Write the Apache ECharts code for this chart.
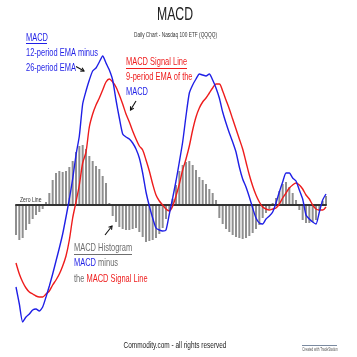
<!DOCTYPE html>
<html>
<head>
<meta charset="utf-8">
<script src="https://cdn.jsdelivr.net/npm/echarts@6/dist/echarts.min.js"></script>
<style>html,body{margin:0;padding:0;background:#fff}#c{width:357px;height:357px}</style>
</head>
<body>
<div id="c"></div>
<script>
// Period index (daily bars)
var periods = [];
for (var k = 0; k < 94; k++) periods.push(k);

// MACD line (12-period EMA minus 26-period EMA)
var macd = [-8.2,-9.9,-11.7,-11.2,-10.9,-10.5,-10.4,-10.6,-10.2,-9.2,
  -8.1,-6.9,-5.6,-4.3,-2.9,-1.2,0.6,2.6,5.0,6.9,
  10.1,11.4,12.5,13.4,13.7,14.3,14.9,14.2,13.5,12.5,
  10.5,8.7,7.1,6.8,6.6,6.2,5.6,4.7,3.2,1.3,
  -0.1,-1.3,-2.3,-2.5,-2.6,-2.5,-0.9,0.7,2.4,4.3,
  6.3,8.9,11.2,12.0,12.6,13.1,13.0,12.9,13.1,12.5,
  11.7,10.7,9.3,8.2,7.2,6.3,5.3,3.8,2.6,1.8,
  0.8,-0.3,-1.3,-1.8,-1.9,-1.4,-1.1,-0.7,0.2,1.3,
  2.3,3.2,3.2,2.7,2.4,1.5,0.6,-1.0,-1.4,-1.7,
  -1.9,-0.7,0.5,1.1];

// MACD signal line (9-period EMA of MACD)
var signal = [-5.8,-6.9,-7.7,-8.3,-8.7,-8.9,-9.1,-9.2,-9.2,-8.9,
  -8.6,-8.0,-7.5,-6.9,-6.1,-5.1,-3.5,-1.3,0.3,2.0,
  4.2,5.3,7.8,9.1,10.0,10.7,11.5,12.3,12.6,12.3,
  11.8,11.0,10.1,9.1,8.3,7.4,6.6,5.9,5.5,4.5,
  3.4,2.1,1.0,0.4,0.0,-0.4,-0.6,-0.1,0.9,2.1,
  3.5,4.6,5.9,7.5,8.8,9.7,10.3,10.7,11.2,11.7,
  12.1,12.1,11.4,10.5,9.6,8.6,7.6,6.6,5.6,4.3,
  3.0,1.9,1.0,0.3,-0.2,-0.4,-0.5,-0.4,-0.3,0.1,
  0.7,1.2,1.7,2.0,2.2,2.0,1.6,1.0,0.6,0.0,
  -0.4,-0.5,-0.5,-0.2];

// MACD histogram
var histogram = [-3.0,-3.5,-3.3,-2.5,-1.9,-1.4,-1.0,-0.7,-0.4,0.3,
  1.2,2.5,3.2,3.4,3.3,3.4,3.8,4.4,5.3,5.9,
  6.0,5.6,4.9,4.4,3.9,3.6,2.9,2.2,0.2,-1.1,
  -1.7,-2.2,-2.4,-2.5,-2.5,-2.4,-2.3,-2.7,-3.2,-3.7,
  -3.6,-3.5,-3.3,-2.9,-2.3,-1.4,-0.6,0.6,2.0,3.4,
  4.0,4.3,4.4,4.0,3.5,2.8,2.5,2.1,1.6,1.2,
  0.5,-1.3,-1.9,-2.4,-2.7,-3.0,-3.2,-3.3,-3.4,-3.3,
  -3.1,-2.8,-2.4,-2.0,-1.3,-0.8,-0.4,0.2,0.7,1.4,
  2.1,2.3,1.8,1.2,0.5,-0.5,-1.5,-1.8,-1.8,-1.7,
  -1.5,-0.6,0.4,0.9];

function pairs(arr){ return arr.map(function(v,i){ return [periods[i], v]; }); }

var FONT = 'Liberation Sans, Arial, sans-serif';
var SX = 0.68;
var BLUE = '#1f1fe6', RED = '#ee1c1c', GRAY = '#6e6e6e';

function txt(x, y, text, size, color, align, extra){
  var o = {type:'text', x:x, y:y, scaleX:SX, z:10,
    style:{text:text, font: size + 'px ' + FONT, fill:color, align:align||'left', verticalAlign:'middle'}};
  if (extra) for (var key in extra) o.style[key] = extra[key];
  return o;
}
function ln(x1,y1,x2,y2,color,w){
  return {type:'line', z:10, shape:{x1:x1,y1:y1,x2:x2,y2:y2}, style:{stroke:color, lineWidth:w||1}};
}
function arrow(x1,y1,x2,y2){
  var dx=x2-x1, dy=y2-y1, L=Math.sqrt(dx*dx+dy*dy), ux=dx/L, uy=dy/L, h=3.2;
  var ax = x2 - h*ux + h*0.6*(-uy), ay = y2 - h*uy + h*0.6*ux;
  var bx = x2 - h*ux - h*0.6*(-uy), by = y2 - h*uy - h*0.6*ux;
  return [ln(x1,y1,x2,y2,'#111',1.1),
          {type:'polyline', z:10, shape:{points:[[ax,ay],[x2,y2],[bx,by]]}, style:{stroke:'#111', lineWidth:1.1, fill:null}}];
}

var graphics = [
  txt(175, 15, 'MACD', 18, '#222', 'center'),
  txt(175.5, 35, 'Daily Chart - Nasdaq 100 ETF (QQQQ)', 7, '#333', 'center'),
  txt(26, 37.5, 'MACD', 11, BLUE),
  ln(26, 43.5, 47, 43.5, BLUE, 1),
  txt(26, 53, '12-period EMA minus', 11, BLUE),
  txt(26, 67.5, '26-period EMA', 11, BLUE),
  txt(126, 61.5, 'MACD Signal Line', 11, RED),
  ln(126, 68.5, 187, 68.5, RED, 1),
  txt(126, 77, '9-period EMA of the', 11, RED),
  txt(126, 92, 'MACD', 11, BLUE),
  txt(20, 199.5, 'Zero Line', 7.5, '#333'),
  txt(74, 248, 'MACD Histogram', 11, GRAY),
  ln(74, 254.5, 132, 254.5, GRAY, 1),
  {type:'text', x:74, y:263, scaleX:SX, z:10, style:{text:'{b|MACD}{g| minus}', font:'11px '+FONT, verticalAlign:'middle',
    rich:{b:{fill:BLUE, font:'11px '+FONT}, g:{fill:GRAY, font:'11px '+FONT}}}},
  {type:'text', x:74, y:278.5, scaleX:SX, z:10, style:{text:'{g|the }{r|MACD Signal Line}', font:'11px '+FONT, verticalAlign:'middle',
    rich:{r:{fill:RED, font:'11px '+FONT}, g:{fill:GRAY, font:'11px '+FONT}}}},
  txt(175, 345, 'Commodity.com - all rights reserved', 9.5, '#222', 'center'),
  ln(302, 345.5, 337, 345.5, '#7a8aa0', 1),
  txt(320, 349.5, 'Created with TradeStation', 4.5, '#555', 'center')
];
graphics = graphics.concat(arrow(76, 66.5, 84, 71));
graphics = graphics.concat(arrow(136, 101, 130.5, 110));
graphics = graphics.concat(arrow(105, 235, 112, 226));

var chart = echarts.init(document.getElementById('c'), null, {renderer:'canvas'});
chart.setOption({
  animation:false,
  backgroundColor:'#fff',
  grid:{left:16, right:31, top:45, bottom:22},
  xAxis:{type:'value', min:0, max:93, z:2,
    axisLine:{show:true, onZero:true, lineStyle:{color:'#333', width:2}},
    axisTick:{show:false}, axisLabel:{show:false}, splitLine:{show:false}},
  yAxis:{type:'value', min:-13, max:16,
    axisLine:{show:false}, axisTick:{show:false}, axisLabel:{show:false}, splitLine:{show:false}},
  series:[
    {type:'bar', data:pairs(histogram), barWidth:2, z:1,
      itemStyle:{color:'#8f8f8f'}},
    {type:'line', data:pairs(signal), showSymbol:false, smooth:0.3, z:3,
      lineStyle:{color:RED, width:1.4}},
    {type:'line', data:pairs(macd), showSymbol:false, smooth:0.2, z:4,
      lineStyle:{color:BLUE, width:1.4}}
  ],
  graphic:graphics
});
</script>
</body>
</html>
